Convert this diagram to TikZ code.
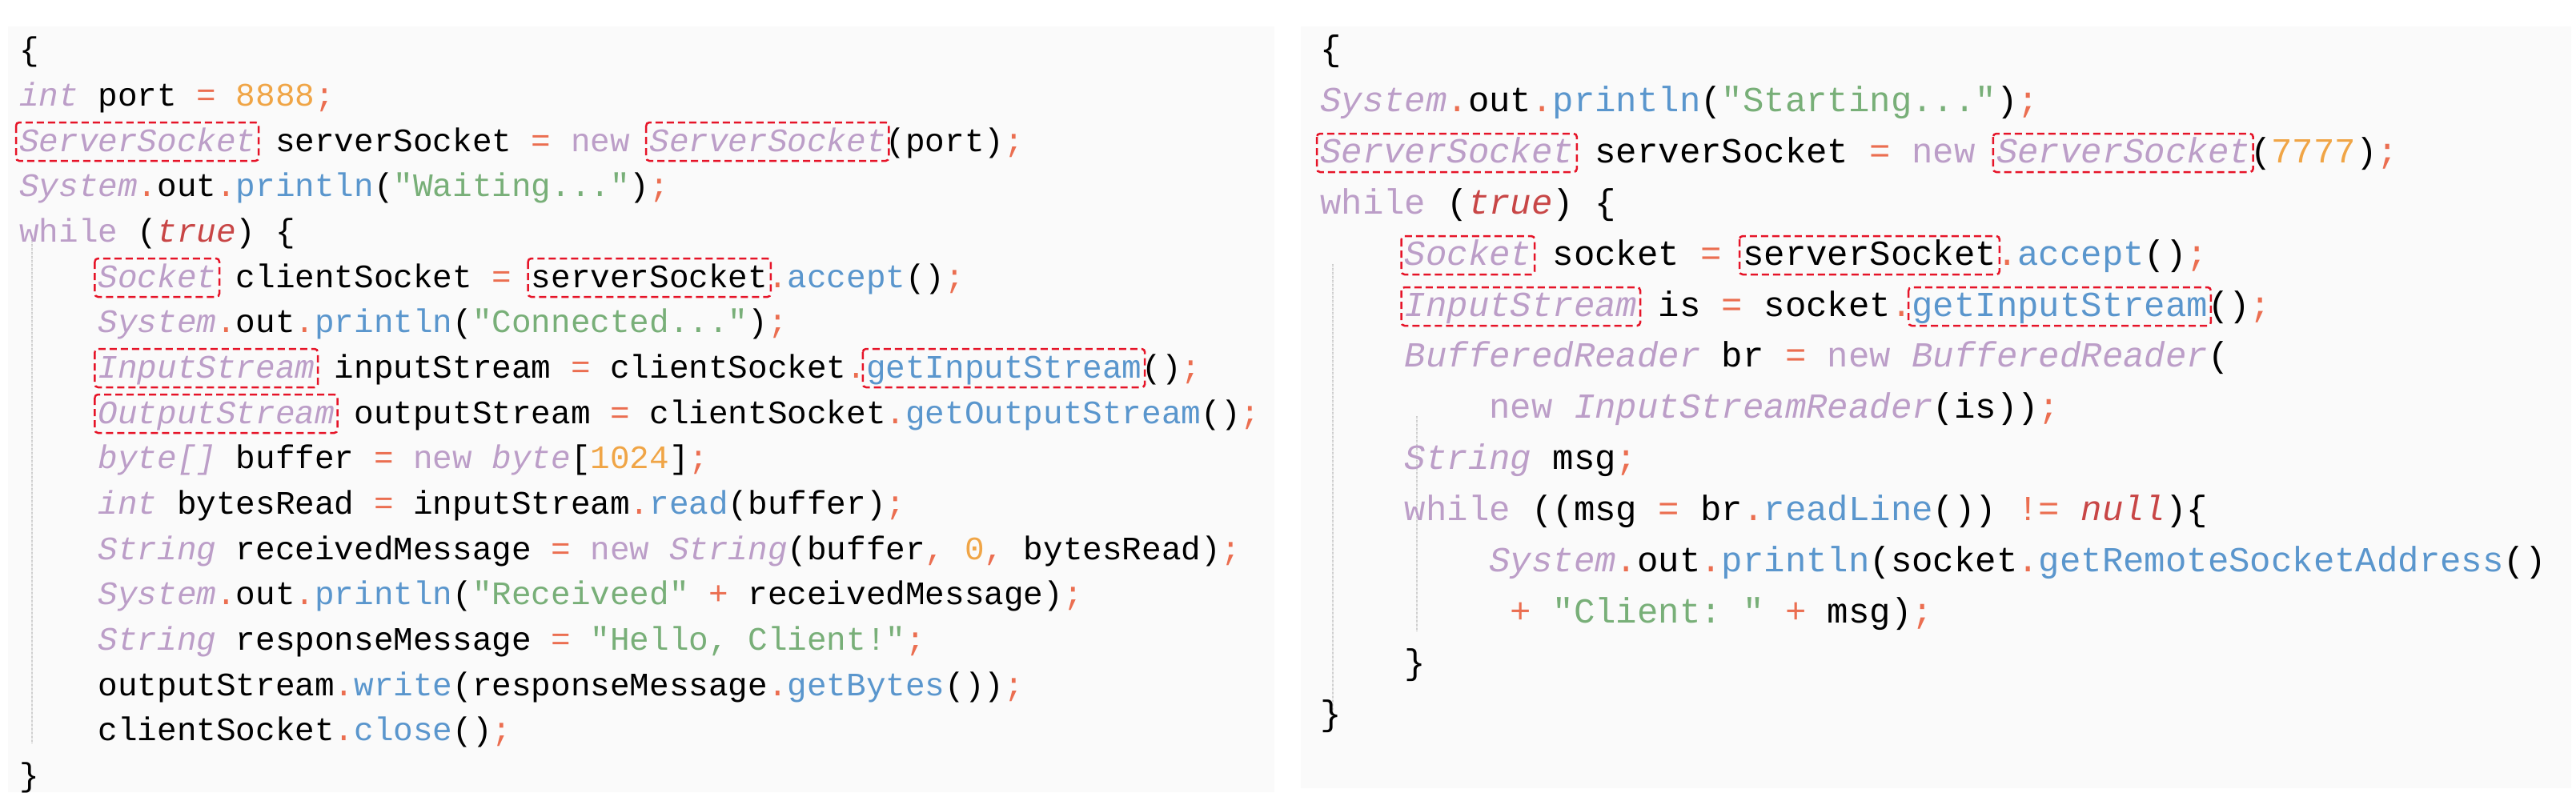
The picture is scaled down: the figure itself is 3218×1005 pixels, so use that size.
\documentclass[tikz,border=0pt]{standalone}
\usepackage{fontspec}
\setmonofont{Liberation Mono}
\usetikzlibrary{calc}
\definecolor{kwc}{RGB}{188,158,200}
\definecolor{numc}{RGB}{240,165,70}
\definecolor{strc}{RGB}{120,175,120}
\definecolor{metc}{RGB}{90,150,205}
\definecolor{opc}{RGB}{235,110,80}
\definecolor{truec}{RGB}{200,70,70}
\definecolor{boxc}{RGB}{230,20,40}
\newcommand\K[1]{{\color{kwc}#1}}
\newcommand\T[1]{{\color{kwc}\itshape #1}}
\newcommand\N[1]{{\color{numc}#1}}
\newcommand\Sg[1]{{\color{strc}#1}}
\newcommand\M[1]{{\color{metc}#1}}
\newcommand\Op[1]{{\color{opc}#1}}
\newcommand\R[1]{{\color{truec}\itshape #1}}
\def\cw{26.4}
\newcommand\bx[3]{\draw[rbox] ($(#1.base west)+({#2*\cw-4},-36)$) rectangle ($(#1.base west)+({#3*\cw+4},12)$);}
\begin{document}
\begin{tikzpicture}[x=1pt,y=-1pt,
  code/.style={anchor=base west,inner sep=0pt,font=\ttfamily\fontsize{44}{50}\selectfont\frenchspacing},
  lcode/.style={code,font=\ttfamily\fontsize{41}{50}\selectfont\frenchspacing},
  rbox/.style={draw=boxc,dashed,dash pattern=on 9pt off 5pt,line width=2.5pt,rounded corners=4pt},
  guide/.style={draw=black!20,densely dotted,line width=1.5pt}]
\useasboundingbox (0,0) rectangle (3218,1005);
\fill[black!2] (10,33) rectangle (1592,990);
\fill[black!2] (1625,33) rectangle (3212,985);
% left panel
\def\cw{24.6}
\def\lx{24}
\draw[guide] (40,300) -- (40,930);
\node[lcode] (l0) at (\lx,75) {\{};
\node[lcode] (l1) at (\lx,132) {\T{int} port \Op{=} \N{8888}\Op{;}};
\node[lcode] (l2) at (\lx,189) {\T{ServerSocket} serverSocket \Op{=} \K{new} \T{ServerSocket}(port)\Op{;}};
\node[lcode] (l3) at (\lx,245) {\T{System}\Op{.}out\Op{.}\M{println}(\Sg{"Waiting..."})\Op{;}};
\node[lcode] (l4) at (\lx,302) {\K{while} (\R{true}) \{};
\node[lcode] (l5) at (\lx+4*\cw,359) {\T{Socket} clientSocket \Op{=} serverSocket\Op{.}\M{accept}()\Op{;}};
\node[lcode] (l6) at (\lx+4*\cw,415) {\T{System}\Op{.}out\Op{.}\M{println}(\Sg{"Connected..."})\Op{;}};
\node[lcode] (l7) at (\lx+4*\cw,472) {\T{InputStream} inputStream \Op{=} clientSocket\Op{.}\M{getInputStream}()\Op{;}};
\node[lcode] (l8) at (\lx+4*\cw,529) {\T{OutputStream} outputStream \Op{=} clientSocket\Op{.}\M{getOutputStream}()\Op{;}};
\node[lcode] (l9) at (\lx+4*\cw,585) {\T{byte[]} buffer \Op{=} \K{new} \T{byte}[\N{1024}]\Op{;}};
\node[lcode] (l10) at (\lx+4*\cw,642) {\T{int} bytesRead \Op{=} inputStream\Op{.}\M{read}(buffer)\Op{;}};
\node[lcode] (l11) at (\lx+4*\cw,699) {\T{String} receivedMessage \Op{=} \K{new} \T{String}(buffer\Op{,} \N{0}\Op{,} bytesRead)\Op{;}};
\node[lcode] (l12) at (\lx+4*\cw,755) {\T{System}\Op{.}out\Op{.}\M{println}(\Sg{"Receiveed"} \Op{+} receivedMessage)\Op{;}};
\node[lcode] (l13) at (\lx+4*\cw,812) {\T{String} responseMessage \Op{=} \Sg{"Hello, Client!"}\Op{;}};
\node[lcode] (l14) at (\lx+4*\cw,869) {outputStream\Op{.}\M{write}(responseMessage\Op{.}\M{getBytes}())\Op{;}};
\node[lcode] (l15) at (\lx+4*\cw,925) {clientSocket\Op{.}\M{close}()\Op{;}};
\node[lcode] (l16) at (\lx,982) {\}};
\bx{l2}{0}{12}\bx{l2}{32}{44}
\bx{l5}{0}{6}\bx{l5}{22}{34}
\bx{l7}{0}{11}\bx{l7}{39}{53}
\bx{l8}{0}{12}
% right panel
\def\cw{26.4}
\def\rx{1649}
\draw[guide] (1665,330) -- (1665,900);
\draw[guide] (1770,520) -- (1770,790);
\node[code] (r0) at (\rx,75) {\{};
\node[code] (r1) at (\rx,139) {\T{System}\Op{.}out\Op{.}\M{println}(\Sg{"Starting..."})\Op{;}};
\node[code] (r2) at (\rx,203) {\T{ServerSocket} serverSocket \Op{=} \K{new} \T{ServerSocket}(\N{7777})\Op{;}};
\node[code] (r3) at (\rx,267) {\K{while} (\R{true}) \{};
\node[code] (r4) at (\rx+4*\cw,331) {\T{Socket} socket \Op{=} serverSocket\Op{.}\M{accept}()\Op{;}};
\node[code] (r5) at (\rx+4*\cw,395) {\T{InputStream} is \Op{=} socket\Op{.}\M{getInputStream}()\Op{;}};
\node[code] (r6) at (\rx+4*\cw,458) {\T{BufferedReader} br \Op{=} \K{new} \T{BufferedReader}(};
\node[code] (r7) at (\rx+8*\cw,522) {\K{new} \T{InputStreamReader}(is))\Op{;}};
\node[code] (r8) at (\rx+4*\cw,586) {\T{String} msg\Op{;}};
\node[code] (r9) at (\rx+4*\cw,650) {\K{while} ((msg \Op{=} br\Op{.}\M{readLine}()) \Op{!=} \R{null})\{};
\node[code] (r10) at (\rx+8*\cw,714) {\T{System}\Op{.}out\Op{.}\M{println}(socket\Op{.}\M{getRemoteSocketAddress}()};
\node[code] (r11) at (\rx+8*\cw,778) {\phantom{x}\Op{+} \Sg{"Client: "} \Op{+} msg)\Op{;}};
\node[code] (r12) at (\rx+4*\cw,842) {\}};
\node[code] (r13) at (\rx,906) {\}};
\bx{r2}{0}{12}\bx{r2}{32}{44}
\bx{r4}{0}{6}\bx{r4}{16}{28}
\bx{r5}{0}{11}\bx{r5}{24}{38}
\end{tikzpicture}
\end{document}
